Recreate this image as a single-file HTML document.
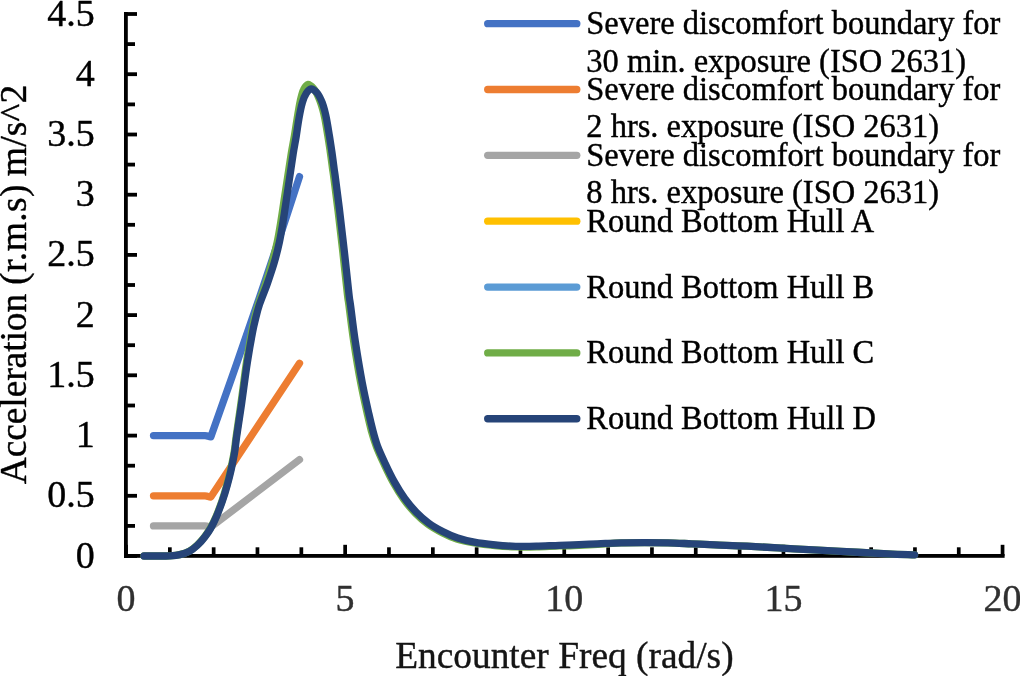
<!DOCTYPE html>
<html><head><meta charset="utf-8"><title>Acceleration chart</title>
<style>
html,body{margin:0;padding:0;background:#fff}
svg{display:block}
text{font-family:"Liberation Serif",serif;stroke-width:.4px;stroke-linejoin:round}
.k text,text.k{fill:#000;stroke:#000}
.g text{fill:#303030;stroke:#303030}
text.t{fill:#151515;stroke:#151515}
</style></head>
<body>
<svg width="1020" height="676" viewBox="0 0 1020 676">
<rect width="1020" height="676" fill="#fff"/>
<g fill="#000">
<rect x="124" y="12" width="3.8" height="546" />
<rect x="124" y="554" width="880.6" height="3.8" />
<rect x="126" y="554.1" width="11.0" height="3.8" />
<rect x="126" y="524.0" width="9.0" height="3.8" />
<rect x="126" y="493.9" width="11.0" height="3.8" />
<rect x="126" y="463.8" width="9.0" height="3.8" />
<rect x="126" y="433.7" width="11.0" height="3.8" />
<rect x="126" y="403.6" width="9.0" height="3.8" />
<rect x="126" y="373.4" width="11.0" height="3.8" />
<rect x="126" y="343.3" width="9.0" height="3.8" />
<rect x="126" y="313.2" width="11.0" height="3.8" />
<rect x="126" y="283.1" width="9.0" height="3.8" />
<rect x="126" y="253.0" width="11.0" height="3.8" />
<rect x="126" y="222.9" width="9.0" height="3.8" />
<rect x="126" y="192.8" width="11.0" height="3.8" />
<rect x="126" y="162.7" width="9.0" height="3.8" />
<rect x="126" y="132.6" width="11.0" height="3.8" />
<rect x="126" y="102.5" width="9.0" height="3.8" />
<rect x="126" y="72.3" width="11.0" height="3.8" />
<rect x="126" y="42.2" width="9.0" height="3.8" />
<rect x="126" y="12.1" width="11.0" height="3.8" />
<rect x="124.2" y="544.8" width="3.7" height="11.2" />
<rect x="168.0" y="547.3" width="3.7" height="8.7" />
<rect x="211.8" y="547.3" width="3.7" height="8.7" />
<rect x="255.6" y="547.3" width="3.7" height="8.7" />
<rect x="299.5" y="547.3" width="3.7" height="8.7" />
<rect x="343.3" y="544.8" width="3.7" height="11.2" />
<rect x="387.1" y="547.3" width="3.7" height="8.7" />
<rect x="431.0" y="547.3" width="3.7" height="8.7" />
<rect x="474.8" y="547.3" width="3.7" height="8.7" />
<rect x="518.6" y="547.3" width="3.7" height="8.7" />
<rect x="562.4" y="544.8" width="3.7" height="11.2" />
<rect x="606.3" y="547.3" width="3.7" height="8.7" />
<rect x="650.1" y="547.3" width="3.7" height="8.7" />
<rect x="693.9" y="547.3" width="3.7" height="8.7" />
<rect x="737.8" y="547.3" width="3.7" height="8.7" />
<rect x="781.6" y="544.8" width="3.7" height="11.2" />
<rect x="825.4" y="547.3" width="3.7" height="8.7" />
<rect x="869.3" y="547.3" width="3.7" height="8.7" />
<rect x="913.1" y="547.3" width="3.7" height="8.7" />
<rect x="956.9" y="547.3" width="3.7" height="8.7" />
<rect x="1000.7" y="544.8" width="3.7" height="11.2" />
</g>
<g fill="none" stroke-width="7.3" stroke-linecap="round" stroke-linejoin="round">
<path d="M153.5 435.6 L205 435.6 C208 435.6 209 437.1 210.8 436.9 Q257.5 306.7 299.5 176.6" stroke="#4472C4"/>
<path d="M153.5 495.8 L205 495.8 C208 495.8 209 497.3 210.8 497.1 L299.5 363.3" stroke="#ED7D31"/>
<path d="M153.5 525.9 L205 525.9 C208 525.9 209 527.4 210.8 527.2 L299.5 459.6" stroke="#A5A5A5"/>
<path d="M144.0 556.0C146.6 556.0 155.3 556.0 159.6 556.0C163.9 556.0 166.3 556.0 169.6 555.8C172.9 555.6 176.3 555.4 179.6 554.6C182.9 553.8 186.3 552.7 189.2 551.2C192.1 549.7 194.3 547.8 196.9 545.4C199.5 543.0 202.3 539.6 204.6 536.7C206.8 533.8 208.5 531.5 210.4 528.1C212.3 524.7 214.2 521.0 216.1 516.5C218.0 512.0 220.1 506.3 221.9 501.2C223.6 496.1 225.2 490.9 226.6 485.8C228.1 480.7 229.2 476.2 230.5 470.4C231.8 464.6 233.4 456.8 234.3 451.2C235.2 445.6 235.0 444.9 236.1 437.0C237.2 429.1 239.2 416.1 240.9 403.6C242.7 391.1 244.7 374.2 246.5 362.1C248.3 350.0 250.4 338.3 251.8 331.1C253.1 323.9 253.4 323.2 254.5 318.7C255.6 314.2 256.5 310.1 258.4 304.2C260.3 298.3 263.5 290.4 265.8 283.5C268.1 276.6 270.2 269.7 272.1 262.8C274.0 255.9 275.7 249.0 277.2 242.1C278.7 235.2 279.8 228.3 280.9 221.4C282.0 214.5 282.9 208.0 284.0 200.8C285.1 193.7 286.2 186.3 287.4 178.5C288.6 170.7 290.1 160.8 291.2 153.7C292.4 146.6 293.4 141.7 294.4 135.9C295.4 130.1 296.1 124.6 297.1 118.8C298.1 113.0 299.1 106.0 300.2 101.2C301.3 96.4 302.1 92.7 303.5 89.9C304.8 87.1 306.4 84.6 308.1 84.4C309.8 84.2 312.3 87.0 313.8 88.7C315.3 90.3 316.1 92.3 317.2 94.4C318.2 96.5 319.2 98.7 320.1 101.2C321.1 103.8 322.0 106.8 322.8 109.7C323.6 112.7 324.1 114.6 324.9 118.8C325.7 123.0 326.8 129.7 327.7 135.1C328.6 140.5 329.4 146.0 330.2 151.4C331.0 156.8 331.8 163.1 332.4 167.7C333.0 172.3 333.1 171.8 334.0 179.1C334.9 186.4 336.6 199.1 338.1 211.4C339.6 223.7 341.3 239.1 342.9 252.9C344.4 266.7 346.4 285.6 347.4 294.3C348.4 303.0 347.8 297.1 348.9 305.0C349.9 312.9 351.7 328.4 353.7 341.4C355.7 354.4 358.4 370.8 360.7 382.9C363.0 395.0 365.5 405.9 367.3 413.9C369.1 421.9 369.9 425.5 371.4 431.0C372.9 436.5 374.4 441.3 376.5 446.9C378.6 452.5 381.4 458.4 384.2 464.4C387.0 470.4 390.2 477.1 393.5 483.0C396.8 488.9 400.3 494.6 403.9 499.6C407.5 504.6 411.3 509.0 415.3 513.1C419.3 517.2 423.2 520.7 427.7 524.0C432.2 527.3 437.4 530.2 442.2 532.7C447.0 535.2 451.3 537.2 456.7 538.9C462.1 540.6 467.9 541.7 474.3 542.8C480.7 543.9 488.1 544.8 495.0 545.5C501.9 546.2 508.8 546.7 515.7 546.9C522.6 547.1 529.1 547.0 536.4 546.8C543.6 546.6 552.9 546.1 559.2 545.9C565.5 545.7 567.6 545.8 574.0 545.5C580.4 545.2 589.8 544.8 597.6 544.4C605.4 544.0 613.1 543.2 621.0 542.9C628.9 542.6 636.9 542.6 644.7 542.6C652.5 542.6 660.1 542.7 668.0 542.9C675.9 543.1 684.0 543.5 691.8 543.8C699.6 544.1 705.8 544.5 715.0 544.9C724.2 545.3 733.8 545.4 747.0 546.1C760.2 546.8 778.3 548.0 794.0 548.9C809.7 549.8 825.3 550.6 841.0 551.4C856.7 552.2 875.7 553.2 888.0 553.8C900.3 554.4 910.2 554.6 914.6 554.8" stroke="#70AD47"/>
<path d="M144.0 556.0C146.7 556.0 155.7 556.0 160.0 556.0C164.3 556.0 166.7 556.0 170.0 555.8C173.3 555.6 176.7 555.4 180.0 554.6C183.3 553.8 186.7 552.7 189.6 551.2C192.5 549.7 194.7 547.8 197.3 545.4C199.9 543.0 202.8 539.6 205.0 536.7C207.2 533.8 208.9 531.5 210.8 528.1C212.7 524.7 214.6 521.0 216.5 516.5C218.4 512.0 220.5 506.3 222.3 501.2C224.1 496.1 225.7 490.9 227.1 485.8C228.5 480.7 229.7 476.2 231.0 470.4C232.3 464.6 233.9 456.8 234.8 451.2C235.7 445.6 235.5 444.9 236.6 437.0C237.7 429.1 239.8 416.1 241.6 403.6C243.4 391.1 245.5 374.2 247.4 362.1C249.3 350.0 251.4 338.3 252.8 331.1C254.2 323.9 254.5 323.2 255.6 318.7C256.7 314.2 257.6 310.1 259.6 304.2C261.6 298.3 265.0 290.4 267.4 283.5C269.8 276.6 272.2 269.7 274.2 262.8C276.2 255.9 277.9 249.0 279.4 242.1C280.9 235.2 282.0 228.3 283.1 221.4C284.2 214.5 285.1 208.0 286.2 200.8C287.3 193.7 288.3 186.3 289.5 178.5C290.7 170.7 292.1 160.8 293.2 153.7C294.3 146.6 295.4 141.7 296.3 135.9C297.2 130.1 297.9 124.3 298.9 118.8C299.9 113.2 301.2 106.8 302.4 102.6C303.6 98.3 304.8 95.6 306.3 93.3C307.8 91.0 309.6 89.1 311.3 88.9C313.0 88.7 315.2 91.0 316.6 92.3C318.0 93.6 318.7 95.2 319.6 96.9C320.5 98.6 321.4 100.4 322.2 102.6C323.0 104.8 323.8 107.3 324.5 110.0C325.2 112.7 325.7 114.6 326.5 118.8C327.3 123.0 328.4 129.7 329.3 135.1C330.2 140.5 331.0 146.0 331.8 151.4C332.6 156.8 333.4 163.1 334.0 167.7C334.6 172.3 334.7 171.8 335.6 179.1C336.6 186.4 338.2 199.1 339.7 211.4C341.2 223.7 342.9 239.1 344.5 252.9C346.1 266.7 348.0 285.6 349.0 294.3C350.0 303.0 349.4 297.1 350.5 305.0C351.6 312.9 353.3 328.4 355.3 341.4C357.3 354.4 360.0 370.8 362.3 382.9C364.6 395.0 367.1 405.9 368.9 413.9C370.7 421.9 371.6 425.6 373.0 431.0C374.4 436.4 375.5 440.6 377.5 446.0C379.5 451.4 382.4 457.5 385.2 463.5C388.0 469.5 391.2 476.2 394.5 482.1C397.8 488.0 401.3 493.7 404.9 498.7C408.5 503.7 412.3 508.1 416.3 512.2C420.3 516.3 424.2 519.8 428.7 523.1C433.2 526.4 438.4 529.3 443.2 531.8C448.0 534.3 452.5 536.3 457.7 538.0C462.9 539.7 468.1 541.1 474.3 542.2C480.5 543.4 488.1 544.2 495.0 544.9C501.9 545.6 508.8 546.1 515.7 546.3C522.6 546.5 529.1 546.4 536.4 546.2C543.6 546.0 552.9 545.5 559.2 545.3C565.5 545.1 567.6 545.1 574.0 544.9C580.4 544.6 589.8 544.1 597.6 543.8C605.4 543.5 613.1 543.1 621.0 542.9C628.9 542.7 636.9 542.6 644.7 542.6C652.5 542.6 660.1 542.7 668.0 542.9C675.9 543.1 684.0 543.5 691.8 543.8C699.6 544.1 705.8 544.5 715.0 544.9C724.2 545.3 733.8 545.4 747.0 546.1C760.2 546.8 778.3 548.0 794.0 548.9C809.7 549.8 825.3 550.6 841.0 551.4C856.7 552.2 875.7 553.2 888.0 553.8C900.3 554.4 910.2 554.6 914.6 554.8" stroke="#264478"/>
</g>
<g class="k" font-size="38">
<text x="94.7" y="567.5" text-anchor="end">0</text>
<text x="94.7" y="507.3" text-anchor="end">0.5</text>
<text x="94.7" y="447.1" text-anchor="end">1</text>
<text x="94.7" y="386.8" text-anchor="end">1.5</text>
<text x="94.7" y="326.6" text-anchor="end">2</text>
<text x="94.7" y="266.4" text-anchor="end">2.5</text>
<text x="94.7" y="206.2" text-anchor="end">3</text>
<text x="94.7" y="146.0" text-anchor="end">3.5</text>
<text x="94.7" y="85.7" text-anchor="end">4</text>
<text x="94.7" y="25.5" text-anchor="end">4.5</text>
</g>
<g class="g" font-size="38">
<text x="126.0" y="610.7" text-anchor="middle">0</text>
<text x="345.1" y="610.7" text-anchor="middle">5</text>
<text x="564.3" y="610.7" text-anchor="middle">10</text>
<text x="783.4" y="610.7" text-anchor="middle">15</text>
<text x="1002.6" y="610.7" text-anchor="middle">20</text>
</g>
<text class="t" x="564.4" y="668.3" font-size="37.4" text-anchor="middle">Encounter Freq (rad/s)</text>
<g class="k" font-size="37.6">
<text transform="translate(26 484.3) rotate(-90)" letter-spacing="-0.13">Acceleration</text>
<text transform="translate(26 284.9) rotate(-90)" letter-spacing="0.4">(r.m.s)</text>
<text transform="translate(26 176.3) rotate(-90)" letter-spacing="0.2">m/s^2</text>
</g>
<g class="k" font-size="32.5" stroke-width="7.3" stroke-linecap="round">
<line x1="487.7" y1="23.65" x2="576.8" y2="23.65" stroke="#4472C4" />
<text transform="translate(586.3 34.15) scale(1 1.02)">Severe discomfort boundary for</text>
<text transform="translate(586.3 71.55) scale(1 1.02)">30 min. exposure (ISO 2631)</text>
<line x1="487.7" y1="89.50" x2="576.8" y2="89.50" stroke="#ED7D31" />
<text transform="translate(586.3 100.00) scale(1 1.02)">Severe discomfort boundary for</text>
<text transform="translate(586.3 137.40) scale(1 1.02)">2 hrs. exposure (ISO 2631)</text>
<line x1="487.7" y1="155.35" x2="576.8" y2="155.35" stroke="#A5A5A5" />
<text transform="translate(586.3 165.85) scale(1 1.02)">Severe discomfort boundary for</text>
<text transform="translate(586.3 203.25) scale(1 1.02)">8 hrs. exposure (ISO 2631)</text>
<line x1="487.7" y1="221.20" x2="576.8" y2="221.20" stroke="#FFC000" />
<text transform="translate(586.3 231.70) scale(1 1.02)">Round Bottom Hull A</text>
<line x1="487.7" y1="287.05" x2="576.8" y2="287.05" stroke="#5B9BD5" />
<text transform="translate(586.3 297.55) scale(1 1.02)">Round Bottom Hull B</text>
<line x1="487.7" y1="352.90" x2="576.8" y2="352.90" stroke="#70AD47" />
<text transform="translate(586.3 363.40) scale(1 1.02)">Round Bottom Hull C</text>
<line x1="487.7" y1="418.75" x2="576.8" y2="418.75" stroke="#264478" />
<text transform="translate(586.3 429.25) scale(1 1.02)">Round Bottom Hull D</text>
</g>
</svg>
</body></html>
